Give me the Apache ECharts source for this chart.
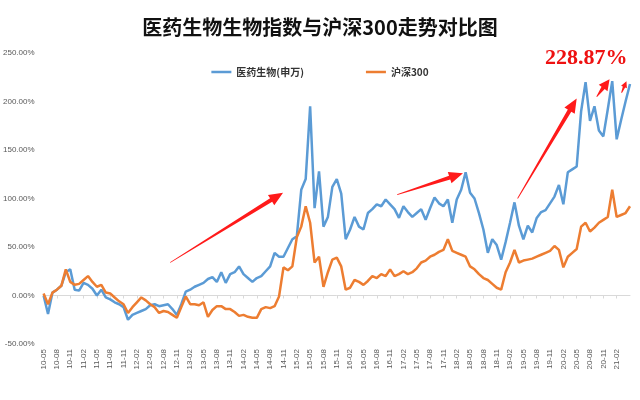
<!DOCTYPE html>
<html><head><meta charset="utf-8">
<script src="https://cdn.jsdelivr.net/npm/echarts@6/dist/echarts.min.js"></script>
<style>html,body{margin:0;padding:0;background:#fff}#c{width:640px;height:400px}</style>
</head><body><div id="c"></div>
<script>
var categories = [
"10-05","10-06","10-07","10-08","10-09","10-10","10-11","10-12",
"11-01","11-02","11-03","11-04","11-05","11-06","11-07","11-08","11-09","11-10","11-11","11-12",
"12-01","12-02","12-03","12-04","12-05","12-06","12-07","12-08","12-09","12-10","12-11","12-12",
"13-01","13-02","13-03","13-04","13-05","13-06","13-07","13-08","13-09","13-10","13-11","13-12",
"14-01","14-02","14-03","14-04","14-05","14-06","14-07","14-08","14-09","14-10","14-11","14-12",
"15-01","15-02","15-03","15-04","15-05","15-06","15-07","15-08","15-09","15-10","15-11","15-12",
"16-01","16-02","16-03","16-04","16-05","16-06","16-07","16-08","16-09","16-10","16-11","16-12",
"17-01","17-02","17-03","17-04","17-05","17-06","17-07","17-08","17-09","17-10","17-11","17-12",
"18-01","18-02","18-03","18-04","18-05","18-06","18-07","18-08","18-09","18-10","18-11","18-12",
"19-01","19-02","19-03","19-04","19-05","19-06","19-07","19-08","19-09","19-10","19-11","19-12",
"20-01","20-02","20-03","20-04","20-05","20-06","20-07","20-08","20-09","20-10","20-11","20-12",
"21-01","21-02","21-03","21-04","21-05"
];
// 医药生物(申万) cumulative return, %
var pharma = [
0,-19,3,6,10,24,27,6,
5,13,11,7,0,6,-2,-4,-7,-9,-12,-25,
-20,-18,-16,-14,-10,-9,-11,-10,-9,-14,-20,-9,
4,6,9,11,13,17,19,14,24,13,22,24,
30,22,18,14,18,20,25,30,44,40,40,49,
58,61,109,120,195,90,128,71,81,112,120,105,
58,68,81,71,68,85,89,94,92,99,94,89,
80,92,86,81,85,89,78,90,101,95,92,99,
75,99,109,127,106,100,85,68,44,58,52,37,
55,75,96,72,58,72,65,80,86,88,95,102,
114,94,127,130,133,190,220,180,195,170,164,192,
221,161,181,200,218
];
// 沪深300 cumulative return, %
var hs300 = [
2,-9,3,6,10,27,14,11,
12,16,20,14,9,11,3,2,-2,-6,-9,-18,
-12,-7,-2,-5,-9,-12,-18,-16,-17,-20,-23,-12,
-1,-9,-9,-10,-7,-22,-15,-11,-11,-14,-14,-17,
-21,-20,-22,-23,-23,-14,-12,-13,-11,-1,29,26,
30,60,71,92,75,34,40,9,24,37,39,30,
6,8,16,14,11,15,20,18,22,20,27,20,
22,25,22,24,28,34,36,40,42,45,47,58,
46,44,42,40,30,27,22,18,16,12,8,6,
24,34,47,34,36,37,38,40,42,44,46,51,
47,29,40,44,48,71,75,66,70,75,78,81,
109,81,83,85,92
];
var yTicks = [-50, 0, 50, 100, 150, 200, 250];
// annotation arrows: [fromMonthIndex, fromValue, toMonthIndex, toValue]
var arrows = [
[28.5, 34, 53.9, 106],
[79.6, 104, 94.4, 126],
[106.7, 100, 120.0, 203],
[124.5, 205, 127.4, 223],
[130.1, 209, 131.2, 221]
];
var peakLabel = "228.87%";

var chart = echarts.init(document.getElementById('c'), null, {renderer: 'canvas'});
chart.setOption({
  animation: false,
  backgroundColor: '#ffffff',
  title: {
    text: '医药生物生物指数与沪深300走势对比图',
    left: 'center', top: 12,
    textStyle: {fontFamily: 'Noto Sans CJK SC', fontWeight: 'bold', fontSize: 20, color: '#111'}
  },
  legend: {
    top: 62, left: 'center',
    icon: 'rect', itemWidth: 20, itemHeight: 2.5, itemGap: 62,
    data: ['医药生物(申万)', '沪深300'],
    textStyle: {fontFamily: 'Noto Sans CJK SC', fontWeight: 'bold', fontSize: 10, color: '#333'}
  },
  grid: {left: 43, right: 10, top: 53, bottom: 56},
  xAxis: [{
    type: 'category', data: categories, boundaryGap: false,
    axisLine: {lineStyle: {color: '#d9d9d9'}},
    axisTick: {show: true, alignWithLabel: true, length: 3, lineStyle: {color: '#d9d9d9'},
      interval: function (i) { return i % 3 === 0 && i < 132; }},
    axisLabel: {rotate: 90, fontSize: 8, color: '#595959', fontFamily: 'Liberation Sans', margin: 5,
      interval: function (i) { return i % 3 === 0 && i < 132; }},
    splitLine: {show: false}
  }, {
    type: 'value', min: 0, max: 132, show: false
  }],
  yAxis: {
    type: 'value', min: yTicks[0], max: yTicks[yTicks.length - 1], interval: 50,
    axisLine: {show: false}, axisTick: {show: false}, splitLine: {show: false},
    axisLabel: {fontSize: 8, color: '#595959', fontFamily: 'Liberation Sans', margin: 9,
      formatter: function (v) { return v.toFixed(2) + '%'; }}
  },
  graphic: [{
    type: 'text', left: 545, top: 47,
    style: {text: peakLabel, font: 'bold 22px "Liberation Serif"', fill: '#ee1111'}
  }],
  series: [{
    name: '医药生物(申万)', type: 'line', data: pharma, symbol: 'none',
    lineStyle: {color: '#5b9bd5', width: 2.5}, itemStyle: {color: '#5b9bd5'}
  }, {
    name: '沪深300', type: 'line', data: hs300, symbol: 'none',
    lineStyle: {color: '#ed7d31', width: 2.5}, itemStyle: {color: '#ed7d31'}
  }, {
    type: 'custom', xAxisIndex: 1, data: arrows, silent: true,
    encode: {x: [0, 2], y: [1, 3]},
    renderItem: function (params, api) {
      var p1 = api.coord([api.value(0), api.value(1)]);
      var p2 = api.coord([api.value(2), api.value(3)]);
      var dx = p2[0] - p1[0], dy = p2[1] - p1[1];
      var L = Math.sqrt(dx * dx + dy * dy);
      var ux = dx / L, uy = dy / L, nx = -uy, ny = ux;
      var hl = Math.min(14, L * 0.5), hw = Math.min(6, hl * 0.5);
      var sw = Math.min(2, hw * 0.4);
      var b = [p2[0] - ux * hl, p2[1] - uy * hl];
      var pts = [
        [p1[0] + nx * 0.4, p1[1] + ny * 0.4],
        [b[0] + nx * sw, b[1] + ny * sw],
        [b[0] + nx * hw, b[1] + ny * hw],
        p2,
        [b[0] - nx * hw, b[1] - ny * hw],
        [b[0] - nx * sw, b[1] - ny * sw],
        [p1[0] - nx * 0.4, p1[1] - ny * 0.4]
      ];
      return {type: 'polygon', shape: {points: pts}, style: {fill: '#ff1a1a'}};
    }
  }]
});
</script></body></html>
